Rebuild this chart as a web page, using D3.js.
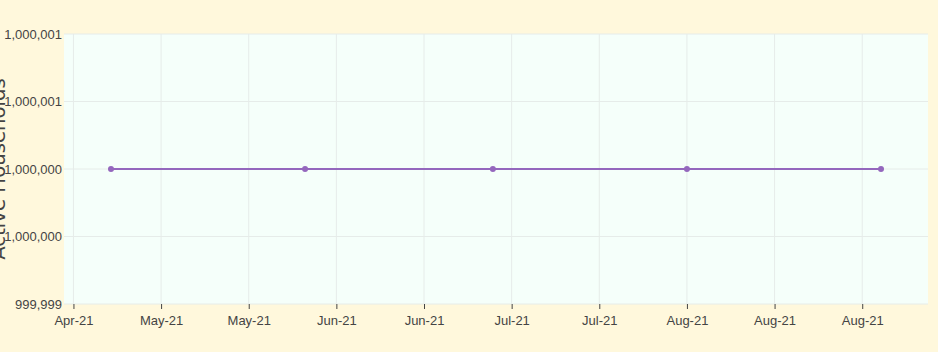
<!DOCTYPE html>
<html lang="en">
<head>
<meta charset="utf-8">
<title>Active Households</title>
<script src="https://d3js.org/d3.v7.min.js"></script>
<style>
  body { margin: 0; background: #fff8dc; }
  svg { display: block; font-family: "DejaVu Sans", Verdana, sans-serif; }
  .tick text { fill: #444; font-size: 13px; }
</style>
</head>
<body>
<svg id="chart"></svg>
<script>
// data
var dates = ["2021-05-01", "2021-06-01", "2021-07-01", "2021-08-01", "2021-09-01"];
var households = [1000000, 1000000, 1000000, 1000000, 1000000];
var yTicks = [999999, 999999.5, 1000000, 1000000.5, 1000001];
var yTitle = "Active Households";

var W = 938, H = 352;
var m = {left: 64, right: 10, top: 34, bottom: 48};
var pw = W - m.left - m.right, ph = H - m.top - m.bottom;

var parse = d3.timeParse("%Y-%m-%d");
var data = dates.map(function(d, i) { return {date: parse(d), v: households[i]}; });

var svg = d3.select("#chart").attr("width", W).attr("height", H);

// y title goes first so the tick labels sit on top of it
svg.append("text")
    .attr("transform", "translate(5," + (m.top + ph / 2) + ") rotate(-90)")
    .attr("text-anchor", "middle")
    .attr("fill", "#444")
    .style("font-size", "19.7px")
    .text(yTitle);

// x: data spans with padding like plotly autorange
var pad = 47;
var x = d3.scaleTime()
    .domain(d3.extent(data, function(d) { return d.date; }))
    .range([pad, pw - pad]);
var x0 = x.invert(0), x1 = x.invert(pw);
var xTicks = d3.timeSunday.range(d3.timeDay.ceil(x0), x1, 2);

var y = d3.scaleLinear().domain([yTicks[0], yTicks[yTicks.length - 1]]).range([ph, 0]);

var g = svg.append("g").attr("transform", "translate(" + m.left + "," + m.top + ")");

g.append("rect").attr("width", pw).attr("height", ph).attr("fill", "#f5fffa");

// grid
g.selectAll(".vgrid").data(xTicks).enter().append("line")
    .attr("x1", function(d) { return x(d); }).attr("x2", function(d) { return x(d); })
    .attr("y1", 0).attr("y2", ph)
    .attr("stroke", "#e6ece9").attr("stroke-width", 1);
g.selectAll(".hgrid").data(yTicks).enter().append("line")
    .attr("x1", 0).attr("x2", pw)
    .attr("y1", function(d) { return y(d); }).attr("y2", function(d) { return y(d); })
    .attr("stroke", "#e6ece9").attr("stroke-width", 1);

// axes
var xa = g.append("g").attr("transform", "translate(0," + ph + ")")
    .call(d3.axisBottom(x).tickValues(xTicks).tickFormat(d3.timeFormat("%b-%y"))
        .tickSize(5).tickPadding(7));
xa.select(".domain").remove();
xa.selectAll(".tick line").attr("stroke", "#444");

var ya = g.append("g")
    .call(d3.axisLeft(y).tickValues(yTicks).tickFormat(d3.format(",.0f"))
        .tickSize(0).tickPadding(2));
ya.select(".domain").remove();

// line + markers
var line = d3.line().x(function(d) { return x(d.date); }).y(function(d) { return y(d.v); });
g.append("path").datum(data).attr("d", line)
    .attr("fill", "none").attr("stroke", "#9467bd").attr("stroke-width", 2);
g.selectAll(".pt").data(data).enter().append("circle")
    .attr("cx", function(d) { return x(d.date); })
    .attr("cy", function(d) { return y(d.v); })
    .attr("r", 3).attr("fill", "#9467bd");
</script>
</body>
</html>
